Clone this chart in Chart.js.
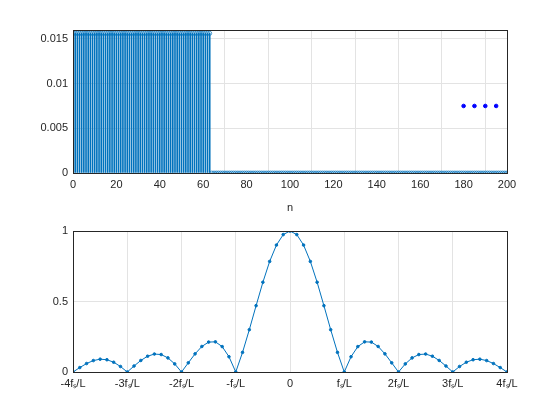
<!DOCTYPE html>
<html>
<head>
<meta charset="UTF-8" />
<script src="https://cdn.jsdelivr.net/npm/chart.js"></script>
<style>
  body { margin: 0; background: #fff; }
  .wrap { position: absolute; left: 0; width: 560px; }
  #top { top: 0; height: 215px; }
  #bot { top: 215px; height: 205px; }
</style>
</head>
<body>
<div class="wrap" id="top"><canvas id="c1"></canvas></div>
<div class="wrap" id="bot"><canvas id="c2"></canvas></div>
<script>
// top: window samples w[n], n = 0..200
const nValues = [];
const wValues = [];
for (let n = 0; n <= 200; n++) { nValues.push(n); wValues.push(n < 64 ? 0.015625 : 0); }
// "...." marker dots
const dotX = [180, 185, 190, 195];
const dotY = [0.0075, 0.0075, 0.0075, 0.0075];

// bottom: normalized magnitude, x in units of fs/L
const halfMag = [1, 0.9745, 0.9003, 0.7842, 0.6366, 0.4705, 0.3001, 0.1392, 0,
  0.1083, 0.1801, 0.2139, 0.2122, 0.1810, 0.1286, 0.0650, 0,
  0.0573, 0.1000, 0.1238, 0.1273, 0.1120, 0.0818, 0.0424, 0,
  0.0390, 0.0693, 0.0871, 0.0909, 0.0811, 0.0600, 0.0314, 0];
const magX = [];
const magY = [];
for (let i = -32; i <= 32; i++) { magX.push(i / 8); magY.push(halfMag[Math.abs(i)]); }
const freqTicks = ['-4fₛ/L', '-3fₛ/L', '-2fₛ/L', '-fₛ/L', '0', 'fₛ/L', '2fₛ/L', '3fₛ/L', '4fₛ/L'];

const blue = '#0072BD';
const font = { family: 'Liberation Sans, Arial, sans-serif', size: 11 };
Chart.defaults.color = '#262626';
Chart.defaults.font = font;

const boxPlugin = {
  id: 'box',
  afterDraw(chart) {
    const { ctx, chartArea: a } = chart;
    ctx.save();
    ctx.strokeStyle = '#262626';
    ctx.lineWidth = 1;
    ctx.strokeRect(a.left + 0.5, a.top + 0.5, a.right - a.left, a.bottom - a.top);
    ctx.restore();
  }
};

const grid = { color: '#e3e3e3', drawTicks: false };

new Chart(document.getElementById('c1'), {
  type: 'bar',
  data: {
    datasets: [
      { type: 'bar', data: nValues.map((n, i) => ({ x: n, y: wValues[i] })), backgroundColor: blue, barThickness: 1, order: 2 },
      { type: 'scatter', data: nValues.map((n, i) => ({ x: n, y: wValues[i] })), borderColor: blue, backgroundColor: 'rgba(0,0,0,0)', pointRadius: 2, borderWidth: 0.7, order: 1 },
      { type: 'scatter', data: dotX.map((x, i) => ({ x: x, y: dotY[i] })), backgroundColor: '#0000ff', borderColor: '#0000ff', pointRadius: 1.8, order: 0 }
    ]
  },
  options: {
    responsive: true, maintainAspectRatio: false, animation: false,
    layout: { padding: { top: 30, right: 53, left: 0, bottom: 0 } },
    plugins: { legend: { display: false }, tooltip: { enabled: false } },
    scales: {
      x: { type: 'linear', min: 0, max: 200, offset: false, grid: grid, border: { color: '#262626' },
        ticks: { stepSize: 20, padding: 5 },
        title: { display: true, text: 'n', font: font, padding: 0 },
        afterFit: s => { s.height = 42; } },
      y: { min: 0, max: 0.016, grid: grid, border: { color: '#262626' },
        ticks: { stepSize: 0.005, padding: 5, callback: v => v === 0 ? '0' : String(+v.toFixed(3)) },
        afterBuildTicks: s => { s.ticks = [0, 0.005, 0.01, 0.015].map(v => ({ value: v })); },
        afterFit: s => { s.width = 73; } }
    }
  },
  plugins: [boxPlugin]
});

new Chart(document.getElementById('c2'), {
  type: 'line',
  data: {
    datasets: [{ data: magX.map((x, i) => ({ x: x, y: magY[i] })), borderColor: blue, backgroundColor: blue,
      borderWidth: 1, pointRadius: 1.3, tension: 0 }]
  },
  options: {
    responsive: true, maintainAspectRatio: false, animation: false,
    layout: { padding: { top: 16, right: 53, left: 0, bottom: 0 } },
    plugins: { legend: { display: false }, tooltip: { enabled: false } },
    scales: {
      x: { type: 'linear', min: -4, max: 4, grid: grid, border: { color: '#262626' },
        ticks: { stepSize: 1, padding: 5, maxRotation: 0, autoSkip: false, callback: v => freqTicks[Math.round(v) + 4] },
        afterFit: s => { s.height = 48; } },
      y: { min: 0, max: 1, grid: grid, border: { color: '#262626' },
        ticks: { stepSize: 0.5, padding: 5, callback: v => String(v) },
        afterFit: s => { s.width = 73; } }
    }
  },
  plugins: [boxPlugin]
});
</script>
</body>
</html>
